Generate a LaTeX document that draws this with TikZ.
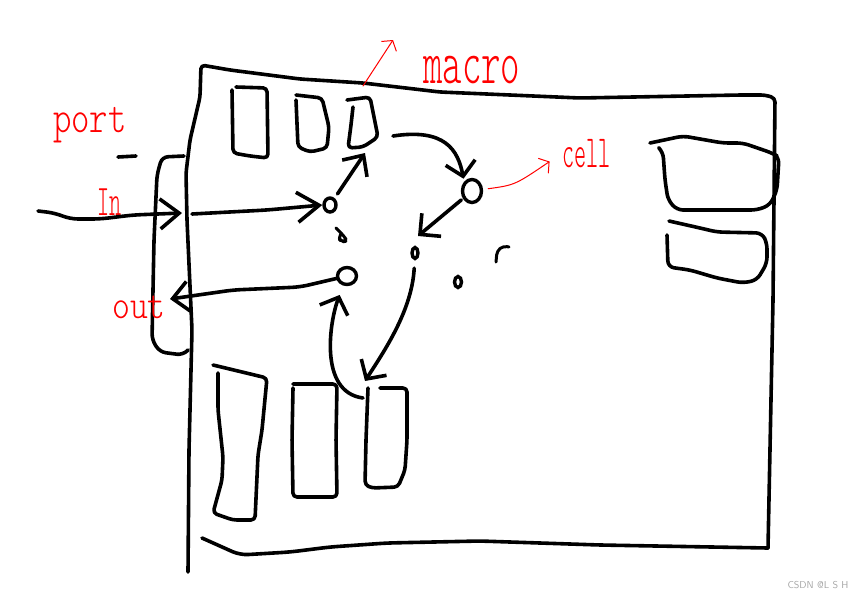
\documentclass[tikz,border=0pt]{standalone}
\usetikzlibrary{positioning, arrows.meta}
\usetikzlibrary{shapes.geometric}

\begin{document}
\begin{tikzpicture}[x=1pt, y=-1pt,
    pen/.style={line width=3.6pt, line cap=round, line join=round, rounded corners=4pt},
    redpen/.style={red, line width=1pt, line cap=round, line join=round},
    barb/.style={-{Straight Barb[length=#1, width=30pt]}},
    redbarb/.style={-{Straight Barb[length=7pt, width=18pt]}},
    pin/.style={draw, ellipse, line width=3.4pt, inner sep=0pt},
    lbl/.style={text=red, inner sep=0pt, anchor=base west}]

\useasboundingbox (0,0) rectangle (867,598);

% macro outline
\draw[pen] (188,572) -- (189,450) -- (192,330) -- (187,220) -- (186,173) -- (190,140) -- (200,97) -- (201,65)
  -- (230,70) -- (300,79) -- (363,83) -- (440,92) -- (580,98) -- (740,95) -- (765,95) -- (775,98) -- (773,300) -- (768,548);
\draw[pen, rounded corners=8pt] (202,538) -- (240,555) -- (290,552) -- (330,547) -- (387,543) -- (480,541) -- (600,545) -- (768,548);

% port bracket
\draw[pen, rounded corners=6pt] (184,156) -- (162,157) -- (157,175) -- (154,240) -- (152,340) -- (160,352) -- (183,355) -- (188,350);
\draw[pen] (118,157) -- (136,156);

% top cells
\draw[pen] (236,87) -- (267,88) -- (268,158) -- (250,156) -- (233,153) -- (232,90);
\draw[pen] (296,95) -- (322,98) -- (329,127) -- (327,148) -- (310,152) -- (298,147) -- (296,100);
\draw[pen] (347,100) -- (370,97) -- (378,137) -- (363,147) -- (348,148) -- (351,125) -- (353,107);

% bottom cells
\draw[pen] (213,365) -- (267,378) -- (262,430) -- (258,455) -- (255,520) -- (233,520) -- (213,513) -- (222,480) -- (223,457) -- (218,410) -- (218,373);
\draw[pen] (293,384) -- (337,384) -- (336,440) -- (337,497) -- (293,497) -- (292,440) -- (293,388);
\draw[pen] (368,388) -- (366,440) -- (365,485) -- (372,488) -- (398,487) -- (405,470) -- (407,440) -- (407,388) -- (380,388);

% right cells
\draw[pen, rounded corners=6pt] (650,143) -- (683,136) -- (723,143) -- (743,143) -- (772,153) -- (779,157) -- (777,190) -- (770,205)
  -- (757,210) -- (677,210) -- (668,200) -- (665,180) -- (663,152) -- (659,148);
\draw[pen, rounded corners=6pt] (669,221) -- (700,228) -- (717,232) -- (762,233) -- (767,243) -- (767,263) -- (757,280)
  -- (743,283) -- (717,278) -- (690,270) -- (668,267) -- (667,235);

% pins
\node[pin, minimum width=12pt, minimum height=14pt] (inPin) at (330,205) {};
\node[pin, minimum width=19pt, minimum height=23pt] (cellPin) at (472,191) {};
\node[pin, minimum width=19pt, minimum height=17pt] (outPin) at (347,276) {};
\node[pin, minimum width=6pt, minimum height=11pt] (dotA) at (415,253) {};
\node[pin, minimum width=7pt, minimum height=11pt] (dotB) at (458,282) {};

% labels
\node[lbl, font=\fontseries{l}\ttfamily\fontsize{35}{35}\selectfont, yscale=1.3] (port) at (53,132) {port};
\node[lbl, font=\fontseries{l}\ttfamily\fontsize{23}{23}\selectfont, yscale=1.9] (in) at (97,215) {In};
\node[lbl, font=\fontseries{l}\ttfamily\fontsize{34}{34}\selectfont, yscale=1.2] (out) at (112,318) {out};
\node[lbl, font=\fontseries{l}\ttfamily\fontsize{23}{23}\selectfont, yscale=2] (cell) at (562,167) {cell};
\node[lbl, font=\fontseries{l}\ttfamily\fontsize{37}{37}\selectfont, yscale=1.7] (macro) at (423,83) {macro};
\node[text=gray!70, font=\sffamily\fontsize{10}{11}\selectfont, anchor=base east] (mark) at (852,588) {CSDN @L S H};

\coordinate (inWire) at (38,211);
\coordinate (portIn) at (182,213);
\coordinate (portInner) at (192,214);
\coordinate (portOut) at (170,299);
\coordinate (d2foot) at (365,153);
\coordinate (d2side) at (393,136);
\coordinate (aimA) at (418,236);
\coordinate (cIn) at (365,381);
\coordinate (cFoot) at (363,398);
\coordinate (edgeTop) at (363,86);
\coordinate (macroTip) at (393,40);

% wires
\draw[pen, barb=19pt, rounded corners=8pt] (inWire) -- (55,213) -- (70,219) -- (100,219) -- (133,215) -- (portIn);
\draw[pen, barb=22pt, rounded corners=8pt] (portInner) -- (267,210) -- (inPin.west);
\draw[pen, barb=16pt, shorten <=5pt] (inPin) -- (d2foot);
\draw[pen, barb=14pt, shorten >=3pt] (d2side) .. controls (445,128) and (458,150) .. (cellPin.north west);
\draw[pen, barb=15pt, shorten <=2pt] (cellPin) -- (aimA);
\draw[pen, barb=14pt, shorten <=8pt] (dotA) .. controls (412,310) and (385,350) .. (cIn);
\draw[pen, barb=14pt, shorten >=10pt] (cFoot) .. controls (318,392) and (330,320) .. (outPin);
\draw[pen, barb=16pt, rounded corners=8pt] (outPin) -- (300,287) -- (233,290) -- (portOut);
\draw[redpen, redbarb, shorten <=5pt, shorten >=15pt] (cellPin) .. controls (515,185) .. (cell.west);
\draw[redpen, redbarb] (edgeTop) -- (macroTip);

% marks
\draw[pen, line width=3pt] (336,228) -- (344,236) -- (347,241) -- (342,242) -- (338,238) -- (341,234);
\draw[pen, line width=3pt] (496,262) -- (497,251) -- (503,246) -- (509,247);

\end{tikzpicture}
\end{document}
